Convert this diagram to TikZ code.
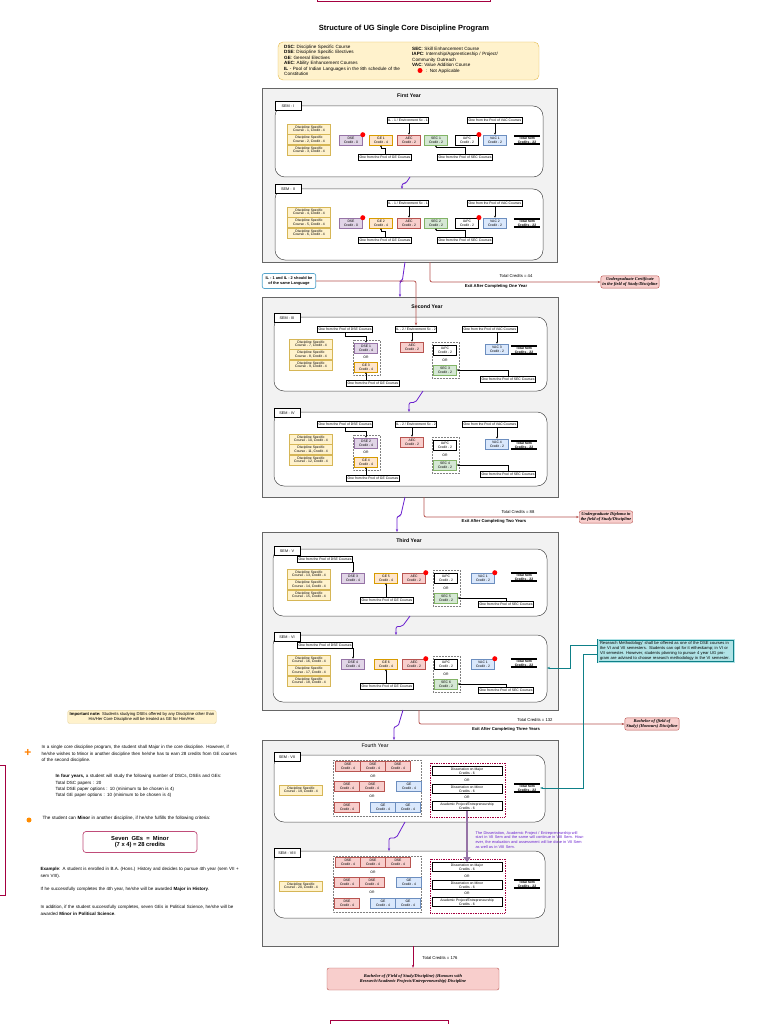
\documentclass[tikz,border=0pt]{standalone}
\usepackage{fontspec}
\setmainfont{Liberation Sans}
\newfontfamily\serifit{Liberation Serif}
\usetikzlibrary{arrows.meta,calc}
\definecolor{dscf}{HTML}{FFF2CC}\definecolor{dscd}{HTML}{D6B656}
\definecolor{dsef}{HTML}{E1D5E7}\definecolor{dsed}{HTML}{9673A6}
\definecolor{gef}{HTML}{FFE6CC}\definecolor{ged}{HTML}{D79B00}
\definecolor{aecf}{HTML}{F8CECC}\definecolor{aecd}{HTML}{B85450}
\definecolor{secf}{HTML}{D5E8D4}\definecolor{secd}{HTML}{82B366}
\definecolor{vacf}{HTML}{DAE8FC}\definecolor{vacd}{HTML}{6C8EBF}
\definecolor{resf}{HTML}{B0E3E6}\definecolor{resd}{HTML}{0E8088}
\definecolor{pinkd}{HTML}{A50040}\definecolor{purp}{HTML}{6A1FCF}
\definecolor{ybar}{HTML}{E3C800}
\newcommand\ft{\fontsize{3.4}{3.9}\selectfont}
\newcommand\fs{\fontsize{3.4}{3.8}\selectfont}
\newcommand\fm{\fontsize{4.2}{5}\selectfont}
\tikzset{
  bx/.style={draw,line width=0.6pt,font=\ft,align=center,inner sep=0.6pt,minimum height=10pt,minimum width=23pt},
  dsc/.style={bx,fill=dscf,draw=dscd,minimum width=43pt},
  dse/.style={bx,fill=dsef,draw=dsed},
  ge/.style={bx,fill=gef,draw=ged},
  aec/.style={bx,fill=aecf,draw=aecd},
  sec/.style={bx,fill=secf,draw=secd},
  vac/.style={bx,fill=vacf,draw=vacd},
  iapc/.style={bx,fill=white,draw=black,line width=0.9pt},
  dis/.style={bx,fill=white,draw=black,line width=0.9pt,minimum width=70pt,minimum height=9pt},
  tot/.style={font=\ft\bfseries,align=center,inner sep=0.8pt,minimum width=26pt},
  pool/.style={draw=black,line width=0.9pt,fill=white,font=\fs,inner sep=1pt,minimum height=6pt},
  ort/.style={font=\ft,inner sep=0pt},
  sem/.style={draw=black!70,rounded corners=10pt,fill=white,line width=0.5pt},
  year/.style={draw=black!60,fill=black!5,line width=0.7pt},
  ytit/.style={font=\fontsize{5.2}{6}\selectfont\bfseries},
  slab/.style={draw,line width=0.9pt,fill=white,font=\fontsize{3.8}{4}\selectfont,minimum width=26pt,minimum height=9pt,inner sep=1pt},
  na/.style={circle,fill=red,inner sep=0pt,minimum size=5pt},
  grp/.style={draw=black!50,densely dotted,line width=0.5pt},
  conn/.style={-{Stealth[length=2pt,width=2pt]},line width=0.4pt},
  parr/.style={-{Stealth[length=3pt]},draw=purp,line width=0.8pt,rounded corners=2pt},
  rarr/.style={-{Stealth[length=3pt]},draw=aecd,line width=0.8pt,rounded corners=2pt},
  tarr/.style={-{Stealth[length=3pt]},draw=resd,line width=0.6pt},
  cert/.style={draw=aecd,fill=aecf,rounded corners=2pt,font=\serifit\fontsize{4.4}{5.2}\selectfont\bfseries\itshape,align=center,inner sep=1.5pt},
  note/.style={anchor=north west,font=\fontsize{4.5}{6.3}\selectfont,align=left},
}
\newcommand\ybars[1]{\draw[ybar,line width=1.6pt] (#1.north west)--(#1.north east) (#1.south west)--(#1.south east);}
\newcommand\dscs[4]{% prefix, x, y of first, first number
  \node[dsc] (#1c1) at (#2,#3) {Discipline Specific\\Course - #4, Credit - 4};
  \node[dsc] (#1c2) at (#2,#3+10.5) {Discipline Specific\\Course - \the\numexpr#4+1\relax, Credit - 4};
  \node[dsc] (#1c3) at (#2,#3+21) {Discipline Specific\\Course - \the\numexpr#4+2\relax, Credit - 4};}
% first year semesters
\newcommand\semA[5]{%
\begin{scope}[shift={(0,#2)}]
  \draw[sem] (275,106) rectangle (543,177);
  \node[slab] (#1lab) at (288,106) {SEM - #3};
  \dscs{#1}{309}{129}{#4}
  \node[dse] (#1dse) at (351,140) {DSE\\Credit - 0};
  \node[ge] (#1ge) at (381,140) {GE #5\\Credit - 4};
  \node[aec] (#1aec) at (409,140) {AEC\\Credit - 2};
  \node[sec] (#1sec) at (436,140) {SEC #5\\Credit - 2};
  \node[iapc] (#1iapc) at (467,140) {IAPC\\Credit - 2};
  \node[vac] (#1vac) at (495,140) {VAC #5\\Credit - 2};
  \node[tot] (#1tot) at (527,140) {Total Sem\\Credits - 22}; \ybars{#1tot}
  \node[na] (#1n1) at (#1dse.north east) {};
  \node[na] (#1n2) at (#1iapc.north east) {};
  \node[pool] (#1il) at (408,120) {IL - 1 / Environment Sc - 1};
  \node[pool] (#1vp) at (495,120) {One from the Pool of VAC Courses};
  \node[pool] (#1gp) at (385,157) {One from the Pool of GE Courses};
  \node[pool] (#1sp) at (465,157) {One from the Pool of SEC Courses};
  \draw[conn] (#1il.south -| #1aec) -- (#1aec.north);
  \draw[conn] (#1vp.south -| #1vac) -- (#1vac.north);
  \draw[conn] (#1gp.north) |- ++(0,-5) -| (#1ge.south);
  \draw[conn] (#1sp.north) |- ++(0,-6) -| (#1sec.south);
\end{scope}}
% second year semesters
\newcommand\semB[6]{%
\begin{scope}[shift={(0,#2)}]
  \draw[sem] (274,317) rectangle (547,391);
  \node[slab] (#1lab) at (287,318) {SEM - #3};
  \dscs{#1}{311}{344}{#4}
  \draw[grp] (353,340) rectangle (380,375);
  \node[dse] (#1dse) at (366,348) {DSE #5\\Credit - 4};
  \node[ort] (#1o1) at (366,357.5) {OR};
  \node[ge] (#1ge) at (366,367) {GE #6\\Credit - 4};
  \node[pool] (#1dp) at (345,329) {One from the Pool of DSE Courses};
  \node[pool] (#1il) at (416,329) {IL - 2 / Environment Sc - 2};
  \node[pool] (#1vp) at (490,329) {One from the Pool of VAC Courses};
  \node[aec] (#1aec) at (412,347) {AEC\\Credit - 2};
  \draw[grp] (432,342) rectangle (459,378);
  \node[iapc] (#1iapc) at (445,350) {IAPC\\Credit - 2};
  \node[ort] (#1o2) at (445,360) {OR};
  \node[sec] (#1sec) at (445,370) {SEC #6\\Credit - 2};
  \node[vac] (#1vac) at (497,349) {VAC #6\\Credit - 2};
  \node[tot] (#1tot) at (524,350) {Total Sem\\Credits - 22}; \ybars{#1tot}
  \node[pool] (#1gp) at (373,383) {One from the Pool of GE Courses};
  \node[pool] (#1sp) at (508,379) {One from the Pool of SEC Courses};
  \draw[conn] (#1dp.south) |- ++(0,4) -| (#1dse.north);
  \draw[conn] (#1il.south -| #1aec) -- (#1aec.north);
  \draw[conn] (#1vp.south -| #1vac) -- (#1vac.north);
  \draw[conn] (#1gp.north -| #1ge) -- (#1ge.south);
  \draw[conn] (#1sp.north) |- (#1sec.east);
\end{scope}}
% third year semesters
\newcommand\semC[6]{%
\begin{scope}[shift={(0,#2)}]
  \draw[sem] (273,549) rectangle (547,616);
  \node[slab] (#1lab) at (287,551) {SEM - #3};
  \dscs{#1}{309}{574}{#4}
  \node[pool] (#1dp) at (325,559) {One from the Pool of DSE Courses};
  \node[dse] (#1dse) at (353,578) {DSE #5\\Credit - 4};
  \node[ge] (#1ge) at (386,578) {GE #6\\Credit - 4};
  \node[aec] (#1aec) at (414,578) {AEC\\Credit - 2};
  \draw[grp] (433,570) rectangle (460,606);
  \node[iapc] (#1iapc) at (446,578) {IAPC\\Credit - 2};
  \node[ort] (#1o2) at (446,588) {OR};
  \node[sec] (#1sec) at (446,598) {SEC #6\\Credit - 2};
  \node[vac] (#1vac) at (483,578) {VAC 1\\Credit - 2};
  \node[tot] (#1tot) at (524,577) {Total Sem\\Credits - 22}; \ybars{#1tot}
  \node[na] (#1n1) at (#1aec.north east) {};
  \node[na] (#1n2) at (#1vac.north east) {};
  \node[pool] (#1gp) at (387,600) {One from the Pool of GE Courses};
  \node[pool] (#1sp) at (506,604) {One from the Pool of SEC Courses};
  \draw[conn] (#1dp.south -| #1dse) -- (#1dse.north);
  \draw[conn] (#1gp.north -| #1ge) -- (#1ge.south);
  \draw[conn] (#1sp.north) |- (#1sec.east);
\end{scope}}
% fourth year semesters
\newcommand\semD[4]{%
\begin{scope}[shift={(0,#2)}]
  \draw[sem] (274,755) rectangle (545,822);
  \node[slab] (#1lab) at (287,757) {SEM - #3};
  \node[dsc] (#1c) at (301,790) {Discipline Specific\\Course - #4, Credit - 4};
  \draw[grp] (333,760) rectangle (421,816);
  \node[aec,minimum width=25pt] (#1a1) at (348,766) {DSE\\Credit - 4};
  \node[aec,minimum width=25pt] (#1a2) at (373,766) {DSE\\Credit - 4};
  \node[aec,minimum width=25pt] (#1a3) at (398,766) {DSE\\Credit - 4};
  \node[ort] (#1o1) at (373,776) {OR};
  \node[aec,minimum width=25pt] (#1b1) at (347,786) {DSE\\Credit - 4};
  \node[aec,minimum width=25pt] (#1b2) at (372,786) {DSE\\Credit - 4};
  \node[vac,minimum width=25pt] (#1b3) at (409,786) {GE\\Credit - 4};
  \node[ort] (#1o2) at (372,796) {OR};
  \node[aec,minimum width=25pt] (#1d1) at (347,807) {DSE\\Credit - 4};
  \node[vac,minimum width=25pt] (#1d2) at (383,807) {GE\\Credit - 4};
  \node[vac,minimum width=25pt] (#1d3) at (408,807) {GE\\Credit - 4};
  \draw[draw=pinkd,densely dotted,line width=0.7pt] (430,763) rectangle (505,817);
  \node[dis] (#1m) at (467,771) {Dissertation on Major\\Credits - 6};
  \node[ort] (#1o3) at (467,780.5) {OR};
  \node[dis] (#1n) at (467,789) {Dissertation on Minor\\Credits - 6};
  \node[ort] (#1o4) at (467,797.5) {OR};
  \node[dis] (#1p) at (467,806) {Academic Project/Entrepreneurship\\Credits - 6};
  \node[tot] (#1tot) at (527,788) {Total Sem\\Credits - 22}; \ybars{#1tot}
\end{scope}}
\begin{document}
\begin{tikzpicture}[x=1pt,y=-1pt]
\useasboundingbox[fill=white] (0,0) rectangle (768,1024);
% decorations
\draw[pinkd,line width=0.8pt] (317,-5) rectangle (490,1.5) (330,1020) rectangle (448,1030);
\draw[pinkd,line width=0.8pt] (-2,765) rectangle (5,895);
% title and legend
\node[font=\fontsize{7.5}{9}\selectfont\bfseries] (title) at (404,29) {Structure of UG Single Core Discipline Program};
\draw[draw=ged!70,fill=dscf,rounded corners=5pt] (278,42) rectangle (539,80);
\node[anchor=north west,font=\fontsize{4.6}{5.4}\selectfont,text width=122pt,align=left,inner sep=0pt] (legL) at (284,45)
 {\textbf{DSC}: Discipline Specific Course\\\textbf{DSE}: Discipline Specific Electives\\\textbf{GE}: General Electives\\\textbf{AEC}: Ability Enhancement Courses\\\textbf{IL} - Pool of Indian Languages in the 8th schedule of the Constitution};
\node[anchor=north west,font=\fontsize{4.6}{5.4}\selectfont,text width=105pt,align=left,inner sep=0pt] (legR) at (412,47)
 {\textbf{SEC}: Skill Enhancement Course\\\textbf{IAPC}: Internship/Apprenticeship / Project/\\Community Outreach\\\textbf{VAC}: Value Addition Course\\\hspace*{14pt}: Not Applicable};
\node[na] (legdot) at (420,70.5) {};
% year frames
\draw[year] (262,88) rectangle (557,262);
\node[ytit] (y1t) at (409,96) {First Year};
\draw[year] (262,297) rectangle (558,497);
\node[ytit] (y2t) at (427,307) {Second Year};
\draw[year] (262,532) rectangle (558,710);
\node[ytit] (y3t) at (409,541) {Third Year};
\draw[year] (262,740) rectangle (558,946);
\node[font=\fontsize{5.2}{6}\selectfont] (y4t) at (375,746) {Fourth Year};
% semesters
\semA{s1}{0}{I}{1}{1}
\semA{s2}{83}{II}{4}{2}
\semB{s3}{0}{III}{7}{1}{3}
\semB{s4}{95}{IV}{10}{2}{4}
\semC{s5}{0}{V}{13}{3}{5}
\semC{s6}{86}{VI}{16}{4}{6}
\semD{s7}{0}{VII}{19}
\semD{s8}{96}{VIII}{20}
% purple flow
\coordinate (p1a) at (410,177); \coordinate (p1b) at (402,189);
\coordinate (p2a) at (405,262); \coordinate (p2b) at (400,297);
\coordinate (p3a) at (423,391); \coordinate (p3b) at (409,412);
\coordinate (p4a) at (405,497); \coordinate (p4b) at (397,532);
\coordinate (p5a) at (410,616); \coordinate (p5b) at (396,635);
\coordinate (p6a) at (403,710); \coordinate (p6b) at (394,740);
\coordinate (p7a) at (405,822); \coordinate (p7b) at (389,851);
\foreach \i in {1,...,7} {\draw[parr] (p\i a) -- ($(p\i a)!0.55!(p\i b)$) -| (p\i b);}
\draw[-{Triangle[length=5pt,width=7pt]},draw=dsed,line width=2.5pt] (s7p.south) -- (s8m.north);
\node[anchor=north west,font=\fontsize{3.9}{4.6}\selectfont,text=purp,text width=110pt,align=left] (disnote) at (472,828)
 {The Dissertation, Academic Project / Entrepreneurship will start in VII Sem and the same will continue in VIII Sem. However, the evaluation and assessment will be done in VII Sem as well as in VIII Sem.};
% IL note
\node[draw=vacd!80!cyan,fill=white,rounded corners=2pt,font=\fontsize{3.9}{4.6}\selectfont\bfseries,align=center,line width=0.7pt] (ilnote) at (289,281) {IL - 1 and IL - 2 should be\\of the same Language};
\draw[rarr] (ilnote.east) -| (s3il.north);
% exits
\node[cert] (cert1) at (630,282) {Undergraduate Certificate\\in the field of Study/Discipline};
\coordinate (e1) at (430,262);
\draw[rarr] (e1) |- (cert1.west);
\node[font=\fm] (t44) at (516,276) {Total Credits = 44};
\node[font=\fm\bfseries] (x1) at (496,286) {Exit After Completing One Year};
\node[cert] (cert2) at (606,517) {Undergraduate Diploma in\\the field of Study/Discipline};
\coordinate (e2) at (424,497);
\draw[rarr] (e2) |- (cert2.west);
\node[font=\fm] (t88) at (518,512) {Total Credits = 88};
\node[font=\fm\bfseries] (x2) at (494,521) {Exit After Completing Two Years};
\node[cert] (cert3) at (652,724) {Bachelor of (field of\\Study) (Honours) Discipline};
\coordinate (e3) at (419,710);
\draw[rarr] (e3) |- (cert3.west);
\node[font=\fm] (t132) at (535,720) {Total Credits = 132};
\node[font=\fm\bfseries] (x3) at (506,729) {Exit After Completing Three Years};
\node[cert,minimum width=172pt,minimum height=22pt] (cert4) at (413,979) {Bachelor of (Field of Study/Discipline) (Honours with\\Research/Academic Projects/Entrepreneurship) Discipline};
\coordinate (e4) at (413,946);
\draw[-{Stealth[length=3pt]},draw=pinkd,line width=0.8pt] (e4) -- (cert4.north);
\node[font=\fm] (t176) at (440,958) {Total Credits = 176};
% research note
\node[draw=resd,fill=resf,double=resf,line width=0.6pt,font=\fontsize{4.1}{4.9}\selectfont,text width=132pt,align=left,inner sep=2pt] (resnote) at (666,651)
 {Research Methodology' shall be offered as one of the DSE courses in the VI and VII semesters. Students can opt for it either\&amp; in VI or VII semester. However, students planning to pursue 4 year UG program are advised to choose research methodology in the VI semester.};
\coordinate (r1) at (570,645); \coordinate (r2) at (583,654);
\draw[draw=resd,line width=0.6pt] (resnote.west |- r1) -- (r1);
\draw[tarr] (r1) |- (547,668);
\draw[draw=resd,line width=0.6pt] (resnote.west |- r2) -- (r2);
\draw[tarr] (r2) |- (s7tot.east);
% left notes
\node[draw=dscd!60,fill=dscf,rounded corners=2pt,font=\fontsize{4.2}{5}\selectfont,align=center,inner sep=2pt] (imp) at (142,717)
 {\textbf{Important note:} Students studying DSEs offered by any Discipline other than\\His/Her Core Discipline will be treated as GE for Him/Her.};
\node[text=orange,font=\fontsize{12}{12}\selectfont\bfseries] (star) at (28,753) {+};
\node[note,text width=200pt] (p1) at (38,742)
 {In a single core discipline program, the student shall Major in the core discipline. However, if he/she wishes to Minor in another discipline then he/she has to earn 28 credits from GE courses of the second discipline.};
\node[note,text width=170pt] (p2) at (52,771)
 {\textbf{In four years,} a student will study the following number of DSCs, DSEs and GEs:\\Total DSC papers : 20\\Total DSE paper options : 10 (minimum to be chosen is 4)\\Total GE paper options : 10 (minimum to be chosen is 4)};
\node[circle,fill=orange!90!yellow,inner sep=0pt,minimum size=5pt] (odot) at (29,820) {};
\node[note,font=\fontsize{4.6}{6.3}\selectfont,text width=200pt] (p3) at (39,813)
 {The student can \textbf{Minor} in another discipline, if he/she fulfills the following criteria:};
\node[draw=pinkd!70,rounded corners=3pt,line width=0.7pt,minimum width=114pt,minimum height=21pt,font=\fontsize{5.8}{6.8}\selectfont\bfseries,align=center] (seven) at (140,842)
 {Seven\ \ GEs\ \ =\ \ Minor\\(7 x 4) = 28 credits};
\node[note,text width=200pt] (p4) at (37,864)
 {\textbf{Example}: A student is enrolled in B.A. (Hons.) History and decides to pursue 4th year (sem VII + sem VIII).};
\node[note,text width=210pt] (p5) at (37,884)
 {If he successfully completes the 4th year, he/she will be awarded \textbf{Major in History}.};
\node[note,text width=200pt] (p6) at (37,902)
 {In addition, if the student successfully completes, seven GEs in Political Science, he/she will be awarded \textbf{Minor in Political Science}.};
\end{tikzpicture}
\end{document}
